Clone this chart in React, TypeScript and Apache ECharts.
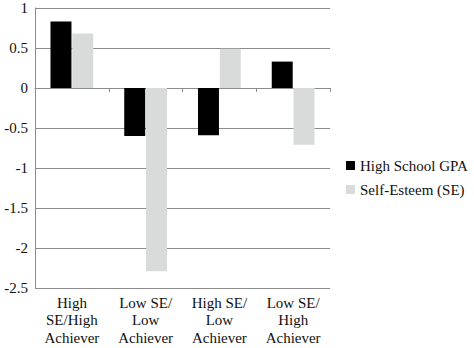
import React, { useEffect, useRef } from "react";
import * as echarts from "echarts";

const categories = ["High\nSE/High\nAchiever", "Low SE/\nLow\nAchiever", "High SE/\nLow\nAchiever", "Low SE/\nHigh\nAchiever"];
const gpaValues = [0.83, -0.6, -0.59, 0.33];
const seValues = [0.68, -2.29, 0.49, -0.71];
const seriesNames = ["High School GPA", "Self-Esteem (SE)"];

const FONT = "serif";

export default function App() {
  const ref = useRef<HTMLDivElement>(null);
  useEffect(() => {
    if (!ref.current) return;
    const chart = echarts.init(ref.current, undefined, { renderer: "svg" });
    chart.setOption({
      animation: false,
      textStyle: { fontFamily: FONT, fontSize: 15 },
      grid: { left: 35, right: 144, top: 8, bottom: 60, containLabel: false },
      legend: {
        orient: "vertical",
        left: 341,
        top: 153,
        itemWidth: 9,
        itemHeight: 9,
        itemGap: 9,
        icon: "rect",
        textStyle: { fontFamily: FONT, fontSize: 15, color: "#111" },
        data: seriesNames,
      },
      xAxis: [
        {
          type: "category",
          data: categories,
          position: "bottom",
          axisLine: { show: false, onZero: false },
          axisTick: { show: false },
          axisLabel: {
            fontFamily: FONT,
            fontSize: 15,
            color: "#111",
            lineHeight: 17.5,
            margin: 6,
          },
        },
        {
          type: "category",
          data: categories,
          position: "bottom",
          axisLine: { show: true, onZero: true, lineStyle: { color: "#8c8c8c", width: 1 } },
          axisTick: { show: true, length: 4, lineStyle: { color: "#8c8c8c" } },
          axisLabel: { show: false },
        },
      ],
      yAxis: {
        type: "value",
        min: -2.5,
        max: 1,
        interval: 0.5,
        axisLine: { show: true, lineStyle: { color: "#8c8c8c" } },
        axisTick: { show: false },
        splitLine: { lineStyle: { color: "#8c8c8c", width: 1 } },
        axisLabel: { fontFamily: FONT, fontSize: 15, color: "#111", margin: 7 },
      },
      series: [
        {
          name: seriesNames[0],
          type: "bar",
          data: gpaValues,
          itemStyle: { color: "#000000" },
          barGap: "4%",
          barCategoryGap: "42%",
        },
        {
          name: seriesNames[1],
          type: "bar",
          data: seValues,
          itemStyle: { color: "#d9dbdb" },
        },
      ],
    });
    return () => chart.dispose();
  }, []);
  return <div ref={ref} style={{ width: 474, height: 348, position: "absolute", left: 0, top: 0 }} />;
}
